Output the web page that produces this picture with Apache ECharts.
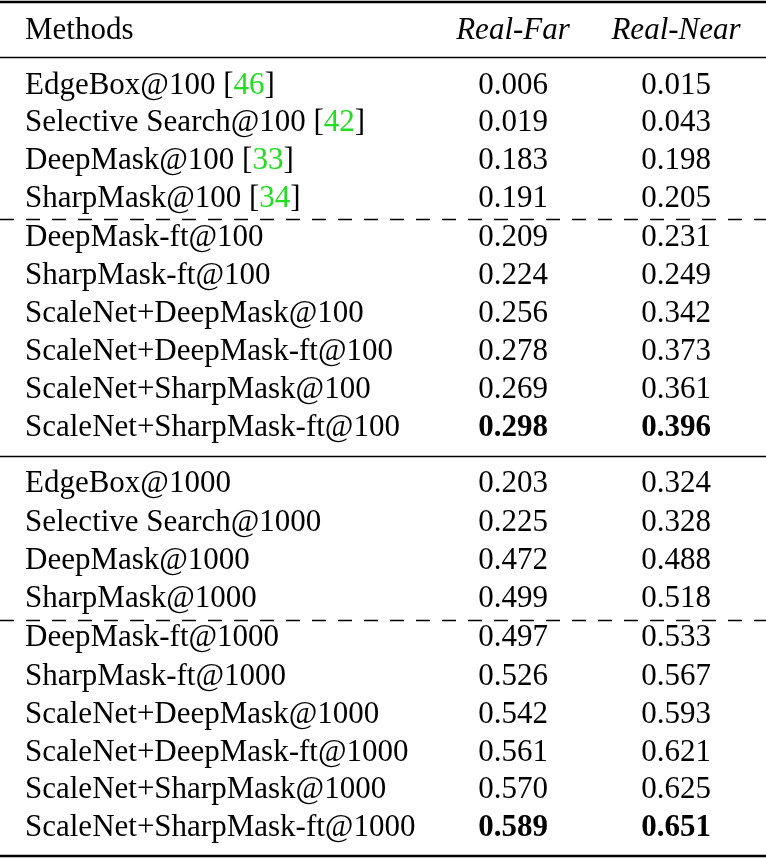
<!DOCTYPE html>
<html><head><meta charset="utf-8">
<script src="https://cdn.jsdelivr.net/npm/echarts@6/dist/echarts.min.js"></script>
<style>html,body{margin:0;padding:0;background:#fff}#c{width:766px;height:859px}</style>
</head><body><div id="c"></div>
<script>
const headers = ["Methods", "Real-Far", "Real-Near"];
const methods = ["EdgeBox@100","Selective Search@100","DeepMask@100","SharpMask@100",
 "DeepMask-ft@100","SharpMask-ft@100","ScaleNet+DeepMask@100","ScaleNet+DeepMask-ft@100","ScaleNet+SharpMask@100","ScaleNet+SharpMask-ft@100",
 "EdgeBox@1000","Selective Search@1000","DeepMask@1000","SharpMask@1000",
 "DeepMask-ft@1000","SharpMask-ft@1000","ScaleNet+DeepMask@1000","ScaleNet+DeepMask-ft@1000","ScaleNet+SharpMask@1000","ScaleNet+SharpMask-ft@1000"];
const cites = ["46","42","33","34","","","","","","","","","","","","","","","",""];
const realFar = ["0.006","0.019","0.183","0.191","0.209","0.224","0.256","0.278","0.269","0.298",
 "0.203","0.225","0.472","0.499","0.497","0.526","0.542","0.561","0.570","0.589"];
const realNear = ["0.015","0.043","0.198","0.205","0.231","0.249","0.342","0.373","0.361","0.396",
 "0.324","0.328","0.488","0.518","0.533","0.567","0.593","0.621","0.625","0.651"];
const boldRows = [9, 19];
// row centre positions (table coordinates)
const rowY = [86,123,161,199, 238,276,314,352,390,428, 484,523,561,599, 638,677,715,753,790,828];
// rules: [y, width, dashed]
const rules = [[2,2.5,false],[57.5,1.5,false],[219.5,1.5,true],[456.5,1.5,false],[620.5,1.5,true],[856,2.5,false]];
const colX = [25, 513, 676];
const headerY = 31;

const font = '"Liberation Serif","DejaVu Serif",serif';
const FS = 31;
const chart = echarts.init(document.getElementById('c'));
const cells = [];
cells.push({kind:'h', col:0, y:headerY, t:headers[0]});
cells.push({kind:'h', col:1, y:headerY, t:headers[1]});
cells.push({kind:'h', col:2, y:headerY, t:headers[2]});
methods.forEach((m,i)=>{
  cells.push({kind:'m', col:0, y:rowY[i], t:m, cite:cites[i]});
  const b = boldRows.includes(i);
  cells.push({kind:'v', col:1, y:rowY[i], t:realFar[i], bold:b});
  cells.push({kind:'v', col:2, y:rowY[i], t:realNear[i], bold:b});
});
rules.forEach(r=>cells.push({kind:'r', y:r[0], w:r[1], dashed:r[2]}));

chart.setOption({
  animation:false,
  grid:{left:0,right:0,top:0,bottom:0},
  xAxis:{type:'value',min:0,max:766,show:false},
  yAxis:{type:'value',min:0,max:859,inverse:true,show:false},
  series:[{
    type:'custom',
    coordinateSystem:'cartesian2d',
    data: cells.map((c,i)=>[i]),
    renderItem:(params, api)=>{
      const c = cells[api.value(0)];
      if (c.kind==='r'){
        const p1 = api.coord([0,c.y]), p2 = api.coord([766,c.y]);
        return {type:'line', shape:{x1:p1[0],y1:p1[1],x2:p2[0],y2:p2[1]},
          style:{stroke:'#000', lineWidth:c.w, lineDash:c.dashed?[14,12]:null}};
      }
      const p = api.coord([colX[c.col], c.y]);
      const align = c.col===0 ? 'left' : 'center';
      let text = c.t, rich = {};
      if (c.kind==='m' && c.cite){
        text = c.t + ' [{g|' + c.cite + '}]';
        rich = {g:{fill:'#22dd22', fontSize:FS, fontFamily:font}};
      }
      return {type:'text', x:p[0], y:p[1], style:{
        text:text, rich:rich, fill:'#000', fontSize:FS, fontFamily:font,
        fontStyle: (c.kind==='h' && c.col>0) ? 'italic' : 'normal',
        fontWeight: c.bold ? 'bold' : 'normal',
        align:align, verticalAlign:'middle'}};
    }
  }]
});
</script></body></html>
